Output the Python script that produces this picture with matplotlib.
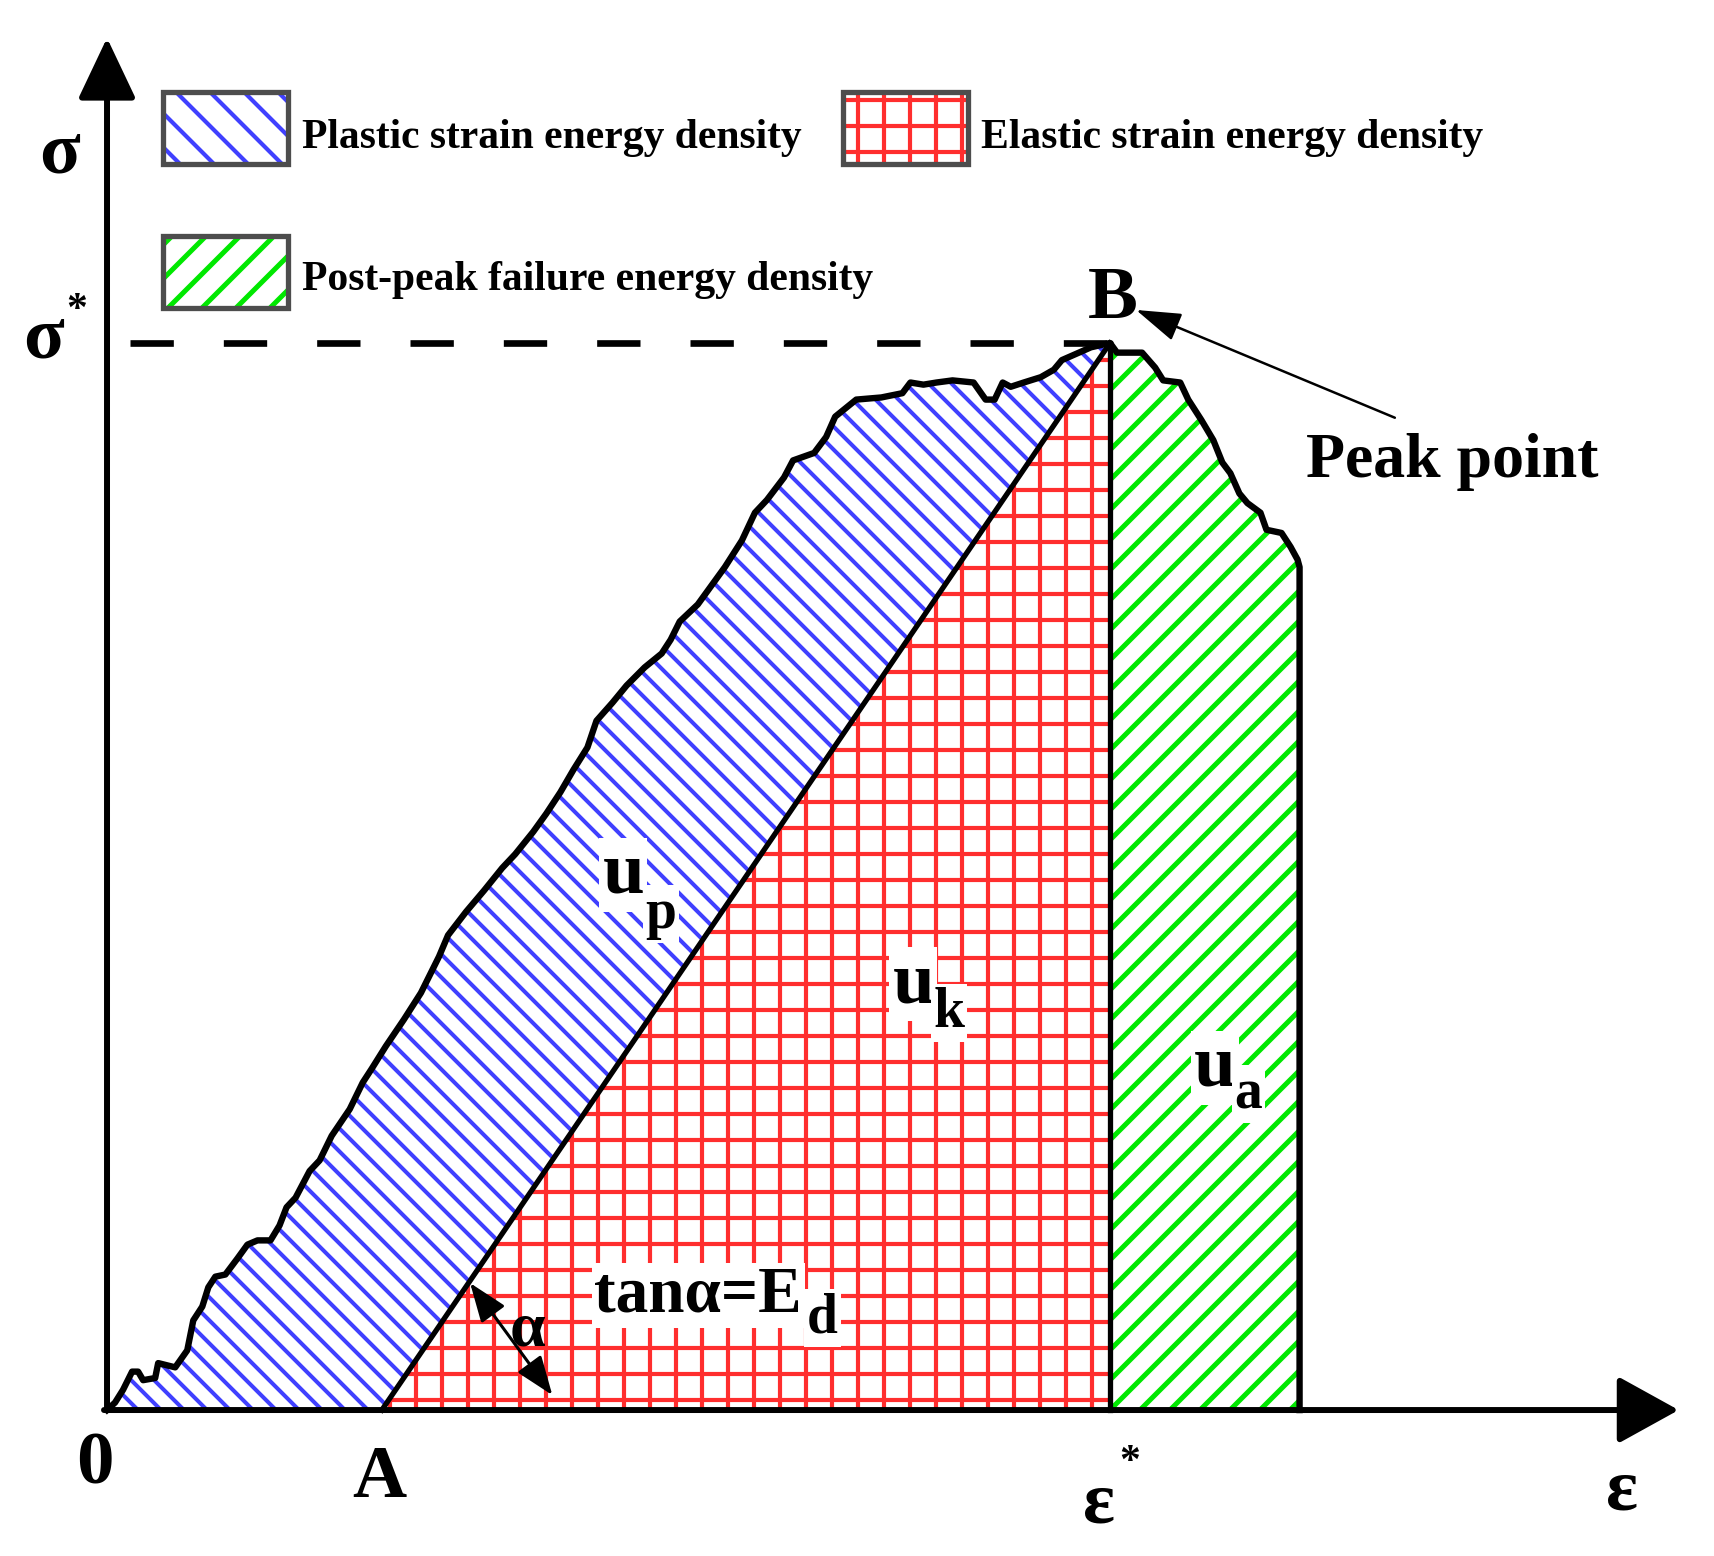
import numpy as np
import matplotlib
matplotlib.use('Agg')
import matplotlib.pyplot as plt
from matplotlib.patches import Polygon, Rectangle
from matplotlib.collections import LineCollection
from matplotlib.transforms import IdentityTransform

# ---------------- data (normalised: strain / peak strain, stress / peak stress) -------------
strain_pre = [0.000, 0.008, 0.016, 0.025, 0.031, 0.036, 0.048, 0.051, 0.068, 0.080,
              0.086, 0.095, 0.101, 0.108, 0.118, 0.130, 0.140, 0.150, 0.163, 0.172,
              0.179, 0.188, 0.202, 0.212, 0.224, 0.242, 0.255, 0.264, 0.278, 0.296,
              0.313, 0.331, 0.340, 0.358, 0.376, 0.394, 0.407, 0.425, 0.438, 0.452,
              0.465, 0.479, 0.488, 0.504, 0.518, 0.536, 0.553, 0.562, 0.571, 0.589,
              0.616, 0.633, 0.646, 0.658, 0.675, 0.684, 0.705, 0.717, 0.726, 0.747,
              0.772, 0.793, 0.801, 0.814, 0.827, 0.843, 0.864, 0.876, 0.885, 0.893,
              0.901, 0.914, 0.931, 0.944, 0.952, 0.969, 0.981, 1.000]
stress_pre = [0.000, 0.007, 0.019, 0.036, 0.036, 0.028, 0.030, 0.044, 0.040, 0.056,
              0.084, 0.097, 0.115, 0.125, 0.127, 0.142, 0.155, 0.159, 0.159, 0.173,
              0.190, 0.199, 0.224, 0.234, 0.257, 0.282, 0.307, 0.320, 0.341, 0.366,
              0.391, 0.425, 0.445, 0.467, 0.487, 0.508, 0.521, 0.542, 0.559, 0.579,
              0.600, 0.621, 0.646, 0.663, 0.679, 0.696, 0.709, 0.722, 0.739, 0.755,
              0.790, 0.815, 0.841, 0.853, 0.874, 0.890, 0.897, 0.912, 0.931, 0.947,
              0.949, 0.953, 0.963, 0.961, 0.963, 0.965, 0.963, 0.947, 0.947, 0.963,
              0.959, 0.963, 0.968, 0.975, 0.984, 0.991, 0.996, 1.000]
strain_post = [1.007, 1.032, 1.045, 1.053, 1.070, 1.078, 1.091, 1.103, 1.112, 1.120,
               1.129, 1.137, 1.150, 1.156, 1.171, 1.180, 1.187, 1.189]
stress_post = [0.991, 0.991, 0.977, 0.965, 0.963, 0.947, 0.928, 0.909, 0.888, 0.878,
               0.859, 0.850, 0.841, 0.825, 0.822, 0.809, 0.797, 0.790]
strain_A = 0.274        # unloading line intercept (point A)
strain_peak = 1.0       # epsilon*
stress_peak = 1.0       # sigma*
strain_end = 1.189      # end of post-peak curve

legend_labels = ["Plastic strain energy density",
                 "Elastic strain energy density",
                 "Post-peak failure energy density"]

# ---------------- figure ------------------------------------------------
W, H, DPI = 1714, 1556, 100
fig = plt.figure(figsize=(W / DPI, H / DPI), dpi=DPI)
ax = fig.add_axes([0, 0, 1, 1])
ax.set_xlim(-0.1067, 1.6022)
ax.set_ylim(-0.1368, 1.3215)
ax.axis('off')

FAM = 'Liberation Serif'
BLUE = '#4040ff'
RED = '#ff2e2e'
GREEN = '#00e800'


def add_hatch(patch, kind, spacing, color, lw):
    segs = []
    if kind == '/':
        for c in np.arange(-H, W + H, spacing):
            segs.append([(c, 0), (c + H, H)])
    elif kind == '\\':
        for c in np.arange(-H, W + H, spacing):
            segs.append([(c, 0), (c - H, H)])
    else:
        for c in np.arange(0, W, spacing):
            segs.append([(c, 0), (c, H)])
        for c in np.arange(0, H, spacing):
            segs.append([(0, c), (W, c)])
    lc = LineCollection(segs, colors=color, linewidths=lw,
                        transform=IdentityTransform(), zorder=patch.get_zorder() + 0.1)
    ax.add_collection(lc, autolim=False)
    lc.set_clip_path(patch)


# plastic region
xp = strain_pre + [strain_A]
yp = stress_pre + [0.0]
p_plastic = Polygon(np.column_stack([xp, yp]), closed=True, facecolor='white',
                    edgecolor='none', zorder=1)
ax.add_patch(p_plastic)
add_hatch(p_plastic, '\\', 23, BLUE, 2.9)

# elastic region
p_elastic = Polygon([[strain_A, 0], [strain_peak, stress_peak], [strain_peak, 0]],
                    closed=True, facecolor='white', edgecolor='none', zorder=1)
ax.add_patch(p_elastic)
add_hatch(p_elastic, '+', 26, RED, 3.0)

# post-peak region
xg = [strain_peak, strain_peak] + strain_post + [strain_end]
yg = [0.0, stress_peak] + stress_post + [0.0]
p_post = Polygon(np.column_stack([xg, yg]), closed=True, facecolor='white',
                 edgecolor='none', zorder=1)
ax.add_patch(p_post)
add_hatch(p_post, '/', 30, GREEN, 3.6)

# curves
ax.plot(strain_pre + strain_post + [strain_end], stress_pre + stress_post + [0.0],
        color='black', lw=4.6, solid_joinstyle='round', zorder=5)
ax.plot([strain_A, strain_peak], [0, stress_peak], color='black', lw=3.8, zorder=5)
ax.plot([strain_peak, strain_peak], [0, stress_peak], color='black', lw=3.8, zorder=5)
ax.plot([0.023, strain_peak], [stress_peak, stress_peak], color='black', lw=4.8,
        dashes=(6.5, 7.5), dash_capstyle='butt', zorder=5)

# axes with arrows
ax.annotate('', xy=(0, 1.286), xytext=(0, 0),
            arrowprops=dict(arrowstyle='-|>,head_length=3.8,head_width=1.8',
                            mutation_scale=10, lw=4.3, color='black',
                            shrinkA=0, shrinkB=0), zorder=6)
ax.annotate('', xy=(1.567, 0), xytext=(-0.003, 0),
            arrowprops=dict(arrowstyle='-|>,head_length=3.8,head_width=2.1',
                            mutation_scale=10, lw=4.3, color='black',
                            shrinkA=0, shrinkB=0), zorder=6)

# peak arrow
ax.annotate('', xy=(1.026, 1.031), xytext=(1.284, 0.930),
            arrowprops=dict(arrowstyle='-|>,head_length=2.8,head_width=0.9',
                            mutation_scale=10, lw=1.8, color='black',
                            shrinkA=0, shrinkB=0), zorder=6)
# alpha arrow
ax.annotate('', xy=(0.362, 0.119), xytext=(0.444, 0.014),
            arrowprops=dict(arrowstyle='<|-|>,head_length=2.4,head_width=0.9',
                            mutation_scale=10, lw=2.2, color='black',
                            shrinkA=0, shrinkB=0), zorder=6)


def T(x, y, s, size, **kw):
    kw.setdefault('ha', 'left')
    kw.setdefault('va', 'baseline')
    return ax.text(x, y, s, fontsize=size, fontfamily=FAM, fontweight='bold',
                   color='black', zorder=8, **kw)


# legend boxes
boxes = [((0.056, 1.168), BLUE, '\\', 34, 3.0),
         ((0.734, 1.168), RED, '+', 26, 3.0),
         ((0.056, 1.033), GREEN, '/', 34, 3.6)]
for (x0, y0), col, kind, sp, lw in boxes:
    r = Rectangle((x0, y0), 0.124, 0.067, facecolor='white', edgecolor='none', zorder=7)
    ax.add_patch(r)
    add_hatch(r, kind, sp, col, lw)
    ax.add_patch(Rectangle((x0, y0), 0.124, 0.067, facecolor='none',
                           edgecolor='#4d4d4d', lw=3.8, zorder=7.5))

T(0.194, 1.183, legend_labels[0], 30)
T(0.871, 1.183, legend_labels[1], 30)
T(0.194, 1.050, legend_labels[2], 30)

# axis labels
T(-0.047, 1.177, 'σ', 54, ha='center', va='center')
T(-0.063, 1.003, 'σ', 54, ha='center', va='center')
T(-0.030, 1.030, '*', 30, ha='center', va='center')
T(-0.012, -0.052, '0', 54, ha='center', va='center')
T(0.271, -0.065, 'A', 54, ha='center', va='center')
T(0.989, -0.089, 'ε', 54, ha='center', va='center')
T(1.020, -0.050, '*', 30, ha='center', va='center')
T(1.510, -0.076, 'ε', 54, ha='center', va='center')
T(1.003, 1.040, 'B', 54, ha='center', va='center')
T(1.195, 0.874, 'Peak point', 46)

# region labels
wb = dict(facecolor='white', edgecolor='none', pad=2)
T(0.494, 0.485, 'u', 54, bbox=wb)
T(0.537, 0.452, 'p', 40, bbox=wb)
T(0.783, 0.382, 'u', 54, bbox=wb)
T(0.824, 0.359, 'k', 40, bbox=wb)
T(1.084, 0.304, 'u', 54, bbox=wb)
T(1.124, 0.283, 'a', 40, bbox=wb)
T(0.486, 0.092, 'tanα=E', 47, bbox=wb)
T(0.698, 0.073, 'd', 40, bbox=wb)
T(0.419, 0.075, 'α', 46, ha='center', va='center')

fig.savefig('out.png', dpi=DPI, facecolor='white')
